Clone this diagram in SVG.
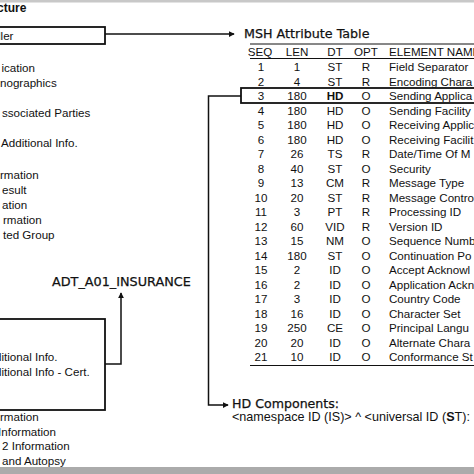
<svg xmlns="http://www.w3.org/2000/svg" width="474" height="474" viewBox="0 0 474 474">
<defs>
<style>
.t{font-family:"Liberation Sans",Arial,sans-serif;font-size:11.6px;fill:#111}
.c{text-anchor:middle}
.b{font-weight:bold}
.h{font-family:"DejaVu Sans",Verdana,sans-serif;font-size:12.5px;fill:#111;stroke:#111;stroke-width:0.25}
.ln{stroke:#111;stroke-width:1.5;fill:none}
.rule{stroke:#111;stroke-width:1;fill:none}
.box{stroke:#111;stroke-width:1.8;fill:none}
</style>
<marker id="ah" viewBox="0 0 8 8" refX="7" refY="4" markerWidth="6" markerHeight="6" markerUnits="userSpaceOnUse" orient="auto">
<path d="M0,0 L8,4 L0,8 z" fill="#111"/>
</marker>
</defs>
<rect x="0" y="0" width="474" height="474" fill="#fff"/>
<rect x="0" y="0" width="474" height="2.5" fill="#c8c8c8"/>
<rect x="0" y="467" width="474" height="7" fill="#ababab"/>

<g id="title"><text class="t b" x="-3" y="12" style="font-size:12px">cture</text></g>

<g id="node-controller">
<rect class="box" x="-2" y="27" width="107" height="17"/>
<text class="t" x="-2" y="40">ller</text>
</g>

<g id="segment-list-top">
<text class="t" x="1.5" y="72">ication</text>
<text class="t" x="0" y="87">nographics</text>
<text class="t" x="2" y="117">ssociated Parties</text>
<text class="t" x="1" y="147">Additional Info.</text>
<text class="t" x="0" y="179">rmation</text>
<text class="t" x="2" y="194">esult</text>
<text class="t" x="2" y="209">ation</text>
<text class="t" x="3" y="224">rmation</text>
<text class="t" x="3" y="239">ted Group</text>
</g>

<g id="node-adt-insurance-label">
<text class="h" x="52" y="286" style="font-size:12.8px">ADT_A01_INSURANCE</text>
</g>

<g id="node-insurance-box">
<rect class="box" x="-2" y="319" width="107" height="91"/>
<text class="t" x="-5" y="361">ditional Info.</text>
<text class="t" x="-5" y="376">ditional Info - Cert.</text>
</g>

<g id="segment-list-bottom">
<text class="t" x="0" y="421">rmation</text>
<text class="t" x="-2" y="436">Information</text>
<text class="t" x="2" y="450">2 Information</text>
<text class="t" x="2" y="465">and Autopsy</text>
</g>

<g id="node-msh-table">
<text class="h" x="244" y="37.5" style="font-size:12.7px">MSH Attribute Table</text>
<line class="rule" x1="250" y1="44" x2="474" y2="44"/>
<g class="t">
<text class="c" x="260" y="56">SEQ</text>
<text class="c" x="297" y="56">LEN</text>
<text class="c" x="335" y="56">DT</text>
<text class="c" x="366" y="56">OPT</text>
<text x="389" y="56">ELEMENT NAME</text>
</g>
<line class="rule" x1="250" y1="58.5" x2="474" y2="58.5"/>
<rect class="box" x="241" y="88" width="236" height="15" stroke-width="1.6"/>
<g class="t">
<text class="c" x="261" y="71">1</text><text class="c" x="297" y="71">1</text><text class="c" x="335" y="71">ST</text><text class="c" x="366" y="71">R</text><text x="389" y="71">Field Separator</text>
<text class="c" x="261" y="85.5">2</text><text class="c" x="297" y="85.5">4</text><text class="c" x="335" y="85.5">ST</text><text class="c" x="366" y="85.5">R</text><text x="389" y="85.5">Encoding Chara</text>
<text class="c" x="261" y="100">3</text><text class="c" x="297" y="100">180</text><text class="c b" x="335" y="100">HD</text><text class="c" x="366" y="100">O</text><text x="389" y="100">Sending Applica</text>
<text class="c" x="261" y="114.5">4</text><text class="c" x="297" y="114.5">180</text><text class="c" x="335" y="114.5">HD</text><text class="c" x="366" y="114.5">O</text><text x="389" y="114.5">Sending Facility</text>
<text class="c" x="261" y="129">5</text><text class="c" x="297" y="129">180</text><text class="c" x="335" y="129">HD</text><text class="c" x="366" y="129">O</text><text x="389" y="129">Receiving Applic</text>
<text class="c" x="261" y="143.5">6</text><text class="c" x="297" y="143.5">180</text><text class="c" x="335" y="143.5">HD</text><text class="c" x="366" y="143.5">O</text><text x="389" y="143.5">Receiving Facilit</text>
<text class="c" x="261" y="158">7</text><text class="c" x="297" y="158">26</text><text class="c" x="335" y="158">TS</text><text class="c" x="366" y="158">R</text><text x="389" y="158">Date/Time Of M</text>
<text class="c" x="261" y="172.5">8</text><text class="c" x="297" y="172.5">40</text><text class="c" x="335" y="172.5">ST</text><text class="c" x="366" y="172.5">O</text><text x="389" y="172.5">Security</text>
<text class="c" x="261" y="187">9</text><text class="c" x="297" y="187">13</text><text class="c" x="335" y="187">CM</text><text class="c" x="366" y="187">R</text><text x="389" y="187">Message Type</text>
<text class="c" x="261" y="201.5">10</text><text class="c" x="297" y="201.5">20</text><text class="c" x="335" y="201.5">ST</text><text class="c" x="366" y="201.5">R</text><text x="389" y="201.5">Message Contro</text>
<text class="c" x="261" y="216">11</text><text class="c" x="297" y="216">3</text><text class="c" x="335" y="216">PT</text><text class="c" x="366" y="216">R</text><text x="389" y="216">Processing ID</text>
<text class="c" x="261" y="230.5">12</text><text class="c" x="297" y="230.5">60</text><text class="c" x="335" y="230.5">VID</text><text class="c" x="366" y="230.5">R</text><text x="389" y="230.5">Version ID</text>
<text class="c" x="261" y="245">13</text><text class="c" x="297" y="245">15</text><text class="c" x="335" y="245">NM</text><text class="c" x="366" y="245">O</text><text x="389" y="245">Sequence Numb</text>
<text class="c" x="261" y="259.5">14</text><text class="c" x="297" y="259.5">180</text><text class="c" x="335" y="259.5">ST</text><text class="c" x="366" y="259.5">O</text><text x="389" y="259.5">Continuation Po</text>
<text class="c" x="261" y="274">15</text><text class="c" x="297" y="274">2</text><text class="c" x="335" y="274">ID</text><text class="c" x="366" y="274">O</text><text x="389" y="274">Accept Acknowl</text>
<text class="c" x="261" y="288.5">16</text><text class="c" x="297" y="288.5">2</text><text class="c" x="335" y="288.5">ID</text><text class="c" x="366" y="288.5">O</text><text x="389" y="288.5">Application Ackn</text>
<text class="c" x="261" y="303">17</text><text class="c" x="297" y="303">3</text><text class="c" x="335" y="303">ID</text><text class="c" x="366" y="303">O</text><text x="389" y="303">Country Code</text>
<text class="c" x="261" y="317.5">18</text><text class="c" x="297" y="317.5">16</text><text class="c" x="335" y="317.5">ID</text><text class="c" x="366" y="317.5">O</text><text x="389" y="317.5">Character Set</text>
<text class="c" x="261" y="332">19</text><text class="c" x="297" y="332">250</text><text class="c" x="335" y="332">CE</text><text class="c" x="366" y="332">O</text><text x="389" y="332">Principal Langu</text>
<text class="c" x="261" y="346.5">20</text><text class="c" x="297" y="346.5">20</text><text class="c" x="335" y="346.5">ID</text><text class="c" x="366" y="346.5">O</text><text x="389" y="346.5">Alternate Chara</text>
<text class="c" x="261" y="361">21</text><text class="c" x="297" y="361">10</text><text class="c" x="335" y="361">ID</text><text class="c" x="366" y="361">O</text><text x="389" y="361">Conformance St</text>
</g>
<line class="rule" x1="250" y1="365.5" x2="474" y2="365.5"/>
</g>

<g id="node-hd-components">
<text class="h" x="232" y="408" style="font-size:12.6px">HD Components:</text>
<text class="t" x="232" y="421" style="font-size:12.6px">&lt;namespace ID (IS)&gt; ^ &lt;universal ID (<tspan class="b">S</tspan>T):</text>
</g>

<g id="connectors">
<line class="ln" x1="105" y1="34" x2="234" y2="34" marker-end="url(#ah)"/>
<polyline class="ln" points="241,96 208.5,96 208.5,405 228,405" marker-end="url(#ah)"/>
<polyline class="ln" points="105,364 121,364 121,293" marker-end="url(#ah)"/>
</g>
</svg>
